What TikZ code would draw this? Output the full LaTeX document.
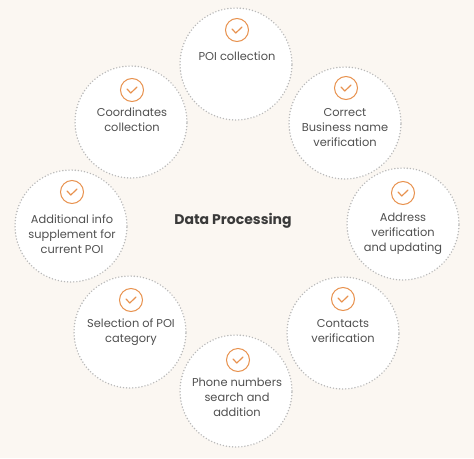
\documentclass[tikz,border=0pt]{standalone}
\usepackage{fontspec}
\setmainfont{Poppins}
\definecolor{bg}{HTML}{FBF7F2}
\definecolor{dotgray}{HTML}{B8B8B8}
\definecolor{orangec}{HTML}{E8924F}
\definecolor{txtgray}{HTML}{505050}
\definecolor{titlegray}{HTML}{3A3A3A}
\begin{document}
\begin{tikzpicture}[x=1pt,y=-1pt,
  stepcircle/.style={circle,fill=white,draw=dotgray,line width=1.6pt,
    dash pattern=on 0pt off 3.1pt,line cap=round,minimum size=112pt,inner sep=0pt},
  steptext/.style={align=center,text=txtgray,font=\fontsize{11.4}{15}\selectfont,inner sep=0pt},
  checkicon/.style={circle,draw=orangec,line width=1pt,minimum size=23pt,inner sep=0pt,
    path picture={\draw[orangec,line width=1.2pt,line cap=round,line join=round]
      ([xshift=-5pt,yshift=1pt]path picture bounding box.center) --
      ([xshift=-1.2pt,yshift=-3pt]path picture bounding box.center) --
      ([xshift=5pt,yshift=3pt]path picture bounding box.center);}}
]
\fill[bg] (0,0) rectangle (474,458);
\useasboundingbox (0,0) rectangle (474,458);

\node[stepcircle] (c1) at (236,64) {};
\node[stepcircle] (c2) at (345,123) {};
\node[stepcircle] (c3) at (403,224) {};
\node[stepcircle] (c4) at (343,333) {};
\node[stepcircle] (c5) at (236,391) {};
\node[stepcircle] (c6) at (130,332) {};
\node[stepcircle] (c7) at (71,226) {};
\node[stepcircle] (c8) at (131,122) {};

\node[checkicon] (k1) at (237,30) {};
\node[checkicon] (k2) at (346,88) {};
\node[checkicon] (k3) at (403,193) {};
\node[checkicon] (k4) at (343,299) {};
\node[checkicon] (k5) at (238,360) {};
\node[checkicon] (k6) at (131,300) {};
\node[checkicon] (k7) at (72,192) {};
\node[checkicon] (k8) at (132,90) {};

\node[steptext] (t1) at (237,56) {POI collection};
\node[steptext] (t2) at (345,128) {Correct\\Business name\\verification};
\node[steptext] (t3) at (403,234) {Address\\verification\\and updating};
\node[steptext] (t4) at (343,331) {Contacts\\verification};
\node[steptext] (t5) at (237,397) {Phone numbers\\search and\\addition};
\node[steptext] (t6) at (131,332) {Selection of POI\\category};
\node[steptext] (t7) at (72,234) {Additional info\\supplement for\\current POI};
\node[steptext] (t8) at (132,120) {Coordinates\\collection};

\node[text=titlegray,font=\fontsize{14}{16}\selectfont\bfseries] (title) at (233,221) {Data Processing};
\end{tikzpicture}
\end{document}
